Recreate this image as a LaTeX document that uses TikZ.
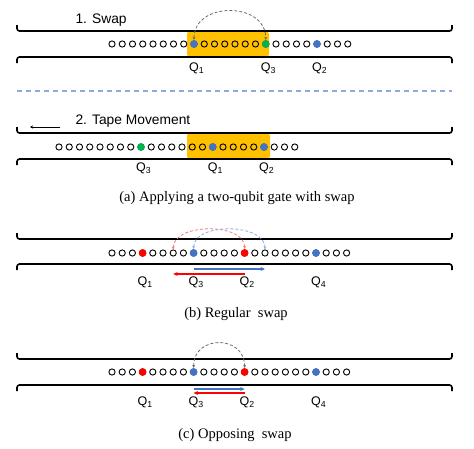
\documentclass[tikz,border=0pt]{standalone}
\usepackage{fontspec}
\setmainfont{Liberation Serif}
\setsansfont{Liberation Sans}
\usetikzlibrary{arrows.meta}

\definecolor{qblue}{HTML}{4472C4}
\definecolor{qgreen}{HTML}{00B050}
\definecolor{qred}{HTML}{FF0000}
\definecolor{gatebox}{HTML}{FFC000}
\definecolor{sepblue}{HTML}{8FAADC}
\definecolor{arcred}{HTML}{F47C7C}

\begin{document}
\begin{tikzpicture}[x=1pt, y=1pt,
    rail/.style = {line width=1.6pt, rounded corners=2.5pt},
    site/.style = {draw, circle, line width=0.9pt, inner sep=0pt, minimum size=6.2pt},
    qubit/.style = {fill=#1, circle, inner sep=0pt, minimum size=7.8pt},
    qlab/.style = {font=\sffamily\fontsize{12.5}{12.5}\selectfont},
    title/.style = {anchor=west, font=\sffamily\fontsize{13.8}{13.8}\selectfont},
    caption/.style = {font=\fontsize{14.5}{14.5}\selectfont},
    gate/.style = {fill=gatebox, rounded corners=3pt},
    swaparc/.style = {densely dashed, line width=0.8pt, {Stealth[length=3pt,width=3pt]}-{Stealth[length=3pt,width=3pt]}},
    move/.style = {line width=1.3pt, -{Stealth[length=4.5pt,width=4pt]}}]

    \useasboundingbox (0,0) rectangle (474,-448);

    % gate zones
    \fill[gate] (187,-31) rectangle (269,-57);
    \fill[gate] (187,-133) rectangle (270,-159);

    % rails of the four tapes
    \foreach \t/\b in {31/57, 133/159, 239/264, 359/385} {
        \draw[rail] (17,-\t+6) -- (17,-\t) -- (452,-\t) -- (452,-\t+6);
        \draw[rail] (17,-\b-6) -- (17,-\b) -- (452,-\b) -- (452,-\b-6);
    }

    % (a) step 1: swap
    \node[title] (swapT) at (72,-20) {1. Swap};
    \foreach \i in {0,...,23}
        \node[site] (s\i) at (112+10.25*\i, -44) {};
    \node[qubit=qblue]  (sQ1) at (s8)  {};
    \node[qubit=qgreen] (sQ3) at (s15) {};
    \node[qubit=qblue]  (sQ2) at (s20) {};
    \node[qlab] at ([yshift=-24pt]sQ1.center) {Q\rlap{\textsubscript{1}}};
    \node[qlab] at ([yshift=-24pt]sQ3.center) {Q\rlap{\textsubscript{3}}};
    \node[qlab] at ([yshift=-24pt]sQ2.center) {Q\rlap{\textsubscript{2}}};
    \draw[swaparc, gray!85!black] (sQ1.north) to[out=90, in=90, looseness=1.38] (sQ3.north);

    \draw[sepblue, line width=1.2pt, dash pattern=on 5pt off 4pt] (17,-91) -- (452,-91);

    % (a) step 2: tape movement
    \node[title] (moveT) at (72,-121) {2. Tape Movement};
    \coordinate (mvA) at (60,-127);
    \coordinate (mvB) at (30,-127);
    \draw[line width=0.8pt, -{Stealth[length=3pt,width=3pt]}] (mvA) -- (mvB);
    \foreach \i in {0,...,23}
        \node[site] (m\i) at (59+10.25*\i, -147) {};
    \node[qubit=qgreen] (mQ3) at (m8)  {};
    \node[qubit=qblue]  (mQ1) at (m15) {};
    \node[qubit=qblue]  (mQ2) at (m20) {};
    \node[qlab] at ([yshift=-21pt]mQ3.center) {Q\rlap{\textsubscript{3}}};
    \node[qlab] at ([yshift=-21pt]mQ1.center) {Q\rlap{\textsubscript{1}}};
    \node[qlab] at ([yshift=-21pt]mQ2.center) {Q\rlap{\textsubscript{2}}};

    \node[caption] (capA) at (237,-198) {(a) Applying a two-qubit gate with swap};

    % (b) regular swap
    \foreach \i in {0,...,23}
        \node[site] (r\i) at (112+10.2*\i, -253) {};
    \node[qubit=qred]  (rQ1) at (r3)  {};
    \node[qubit=qblue] (rQ3) at (r8)  {};
    \node[qubit=qred]  (rQ2) at (r13) {};
    \node[qubit=qblue] (rQ4) at (r20) {};
    \foreach \q/\n in {rQ1/1, rQ3/3, rQ2/2, rQ4/4}
        \node[qlab] at ([yshift=-29pt]\q.center) {Q\rlap{\textsubscript{\n}}};
    \draw[swaparc, arcred] (rQ2.north) to[out=90, in=90, looseness=0.95] (r6.north);
    \draw[swaparc, sepblue] (rQ3.north) to[out=90, in=90, looseness=0.95] (r15.north);
    \draw[move, qred]  ([yshift=-21pt]rQ2.center) -- ([yshift=-21pt]r6.center);
    \draw[move, qblue] ([yshift=-16pt]rQ3.center) -- ([yshift=-16pt]r15.center);

    \node[caption] (capB) at (236,-314) {(b) Regular\ \ swap};

    % (c) opposing swap
    \foreach \i in {0,...,23}
        \node[site] (o\i) at (112+10.2*\i, -372) {};
    \node[qubit=qred]  (oQ1) at (o3)  {};
    \node[qubit=qblue] (oQ3) at (o8)  {};
    \node[qubit=qred]  (oQ2) at (o13) {};
    \node[qubit=qblue] (oQ4) at (o20) {};
    \foreach \q/\n in {oQ1/1, oQ3/3, oQ2/2, oQ4/4}
        \node[qlab] at ([yshift=-30pt]\q.center) {Q\rlap{\textsubscript{\n}}};
    \draw[swaparc, gray!85!black] (oQ3.north) to[out=90, in=90, looseness=1.67] (oQ2.north);
    \draw[move, qblue] ([yshift=-17pt]oQ3.center) -- ([yshift=-17pt]oQ2.center);
    \draw[move, qred]  ([yshift=-21pt]oQ2.center) -- ([yshift=-21pt]oQ3.center);

    \node[caption] (capC) at (235,-435) {(c) Opposing\ \ swap};
\end{tikzpicture}
\end{document}
